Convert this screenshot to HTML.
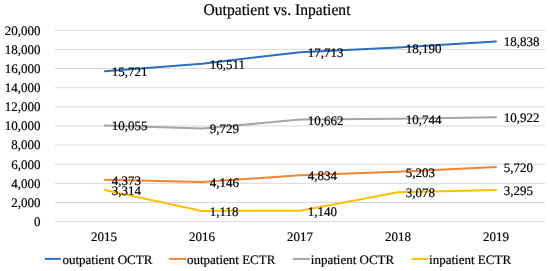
<!DOCTYPE html><html><head><meta charset="utf-8"><title>Outpatient vs. Inpatient</title><style>html,body{margin:0;padding:0;background:#fff;}svg{display:block;}text{font-family:'Liberation Serif','Times New Roman',serif;fill:#000;text-rendering:geometricPrecision;stroke:#000;stroke-width:0.2px;}</style></head><body>
<svg width="550" height="271" viewBox="0 0 550 271">
<rect width="550" height="271" fill="#fff"/>
<text x="277" y="14.7" font-size="16.2" textLength="147" lengthAdjust="spacingAndGlyphs" text-anchor="middle">Outpatient vs. Inpatient</text>
<line x1="55.0" x2="545.0" y1="221.60" y2="221.60" stroke="#d9d9d9" stroke-width="1"/>
<line x1="55.0" x2="545.0" y1="202.47" y2="202.47" stroke="#d9d9d9" stroke-width="1"/>
<line x1="55.0" x2="545.0" y1="183.34" y2="183.34" stroke="#d9d9d9" stroke-width="1"/>
<line x1="55.0" x2="545.0" y1="164.21" y2="164.21" stroke="#d9d9d9" stroke-width="1"/>
<line x1="55.0" x2="545.0" y1="145.08" y2="145.08" stroke="#d9d9d9" stroke-width="1"/>
<line x1="55.0" x2="545.0" y1="125.95" y2="125.95" stroke="#d9d9d9" stroke-width="1"/>
<line x1="55.0" x2="545.0" y1="106.82" y2="106.82" stroke="#d9d9d9" stroke-width="1"/>
<line x1="55.0" x2="545.0" y1="87.69" y2="87.69" stroke="#d9d9d9" stroke-width="1"/>
<line x1="55.0" x2="545.0" y1="68.56" y2="68.56" stroke="#d9d9d9" stroke-width="1"/>
<line x1="55.0" x2="545.0" y1="49.43" y2="49.43" stroke="#d9d9d9" stroke-width="1"/>
<line x1="55.0" x2="545.0" y1="30.30" y2="30.30" stroke="#d9d9d9" stroke-width="1"/>
<text x="40.6" y="226.00" font-size="13" text-anchor="end">0</text>
<text x="40.6" y="206.87" font-size="13" text-anchor="end">2,000</text>
<text x="40.6" y="187.74" font-size="13" text-anchor="end">4,000</text>
<text x="40.6" y="168.61" font-size="13" text-anchor="end">6,000</text>
<text x="40.6" y="149.48" font-size="13" text-anchor="end">8,000</text>
<text x="40.6" y="130.35" font-size="13" text-anchor="end">10,000</text>
<text x="40.6" y="111.22" font-size="13" text-anchor="end">12,000</text>
<text x="40.6" y="92.09" font-size="13" text-anchor="end">14,000</text>
<text x="40.6" y="72.96" font-size="13" text-anchor="end">16,000</text>
<text x="40.6" y="53.83" font-size="13" text-anchor="end">18,000</text>
<text x="40.6" y="34.70" font-size="13" text-anchor="end">20,000</text>
<text x="104.0" y="241.4" font-size="13" text-anchor="middle">2015</text>
<text x="202.0" y="241.4" font-size="13" text-anchor="middle">2016</text>
<text x="300.0" y="241.4" font-size="13" text-anchor="middle">2017</text>
<text x="398.0" y="241.4" font-size="13" text-anchor="middle">2018</text>
<text x="496.0" y="241.4" font-size="13" text-anchor="middle">2019</text>
<polyline points="104.80,71.23 202.00,63.67 300.00,52.18 398.00,47.61 496.00,41.41" fill="none" stroke="#2B70BC" stroke-width="2.0" stroke-linejoin="round" stroke-linecap="round"/>
<polyline points="104.80,179.77 202.00,181.94 300.00,175.36 398.00,171.83 496.00,166.89" fill="none" stroke="#F0843A" stroke-width="2.0" stroke-linejoin="round" stroke-linecap="round"/>
<polyline points="104.80,125.42 202.00,128.54 300.00,119.62 398.00,118.83 496.00,117.13" fill="none" stroke="#A5A5A5" stroke-width="2.0" stroke-linejoin="round" stroke-linecap="round"/>
<polyline points="104.80,189.90 202.00,210.91 300.00,210.70 398.00,192.16 496.00,190.08" fill="none" stroke="#FFC000" stroke-width="2.0" stroke-linejoin="round" stroke-linecap="round"/>
<text x="111.80" y="76.13" font-size="13">15,721</text>
<text x="209.80" y="68.57" font-size="13">16,511</text>
<text x="307.80" y="57.08" font-size="13">17,713</text>
<text x="405.80" y="52.51" font-size="13">18,190</text>
<text x="503.80" y="46.31" font-size="13">18,838</text>
<text x="111.80" y="184.67" font-size="13">4,373</text>
<text x="209.80" y="186.84" font-size="13">4,146</text>
<text x="307.80" y="180.26" font-size="13">4,834</text>
<text x="405.80" y="176.73" font-size="13">5,203</text>
<text x="503.80" y="171.79" font-size="13">5,720</text>
<text x="111.80" y="130.32" font-size="13">10,055</text>
<text x="209.80" y="133.44" font-size="13">9,729</text>
<text x="307.80" y="124.52" font-size="13">10,662</text>
<text x="405.80" y="123.73" font-size="13">10,744</text>
<text x="503.80" y="122.03" font-size="13">10,922</text>
<text x="111.80" y="194.80" font-size="13">3,314</text>
<text x="209.80" y="215.81" font-size="13">1,118</text>
<text x="307.80" y="215.60" font-size="13">1,140</text>
<text x="405.80" y="197.06" font-size="13">3,078</text>
<text x="503.80" y="194.98" font-size="13">3,295</text>
<line x1="44.8" x2="60.9" y1="258.9" y2="258.9" stroke="#2B70BC" stroke-width="2.0"/>
<text x="62.4" y="263.8" font-size="13">outpatient OCTR</text>
<line x1="169.1" x2="186.5" y1="258.9" y2="258.9" stroke="#F0843A" stroke-width="2.0"/>
<text x="186.9" y="263.8" font-size="13">outpatient ECTR</text>
<line x1="292.7" x2="310.0" y1="258.9" y2="258.9" stroke="#A5A5A5" stroke-width="2.0"/>
<text x="310.8" y="263.8" font-size="13">inpatient OCTR</text>
<line x1="411.5" x2="428.0" y1="258.9" y2="258.9" stroke="#FFC000" stroke-width="2.0"/>
<text x="429.1" y="263.8" font-size="13">inpatient ECTR</text>
</svg></body></html>
